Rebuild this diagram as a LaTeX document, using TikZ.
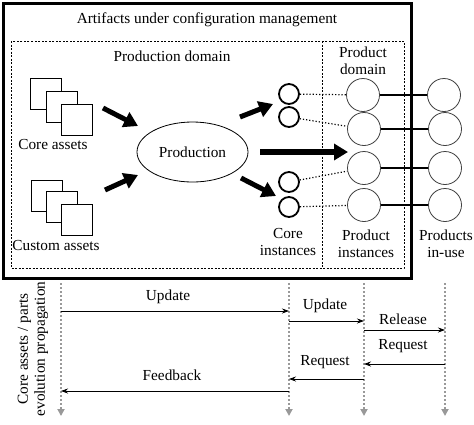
\documentclass[tikz,border=0pt]{standalone}
\usepackage{fontspec}
\setmainfont{Liberation Serif}
\usetikzlibrary{arrows.meta,shapes.geometric}
\tikzset{
  sq/.style={draw, fill=white, minimum size=31pt, inner sep=0pt, line width=0.8pt},
  coreinst/.style={circle, draw, line width=1.8pt, minimum size=20pt, inner sep=0pt},
  prodinst/.style={circle, draw=black!75, line width=0.8pt, minimum size=33pt, inner sep=0pt},
  bigarrow/.style={line width=5pt, -{Triangle[length=14pt,width=16pt]}},
  dotlink/.style={dotted, line width=1.2pt},
  uselink/.style={line width=1.5pt},
  lifeline/.style={draw=black!40, dotted, line width=2pt, -{Triangle[length=7pt,width=7pt]}},
  msg/.style={line width=0.8pt, -{Stealth[length=7pt,width=5pt]}},
  lbl/.style={inner sep=0pt, align=center},
}
\begin{document}
\begin{tikzpicture}[x=1pt, y=-1pt, font=\fontsize{15.3}{17}\selectfont]
\useasboundingbox (0,0) rectangle (474,424);
\fill[white] (0,0) rectangle (474,424);

% outer box and domains
\draw[line width=3pt] (3,3) rectangle (411,278);
\node[lbl] (title) at (207,20) {Artifacts under configuration management};
\draw[dash pattern=on 2pt off 1.5pt, line width=0.8pt] (11,41) rectangle (404,268);
\draw[dash pattern=on 2pt off 1.5pt, line width=0.8pt] (322,41) -- (322,268);
\node[lbl] (pdom) at (172,56) {Production domain};
\node[lbl] (prdom) at (363,61) {Product\\domain};

% core assets
\node[sq] (ca1) at (46,94) {};
\node[sq] (ca2) at (61.5,106.5) {};
\node[sq] (ca3) at (76.5,119.5) {};
\node[lbl] (calbl) at (53,145) {Core assets};

% custom assets
\node[sq] (cu1) at (46.5,195.5) {};
\node[sq] (cu2) at (61.5,206.5) {};
\node[sq] (cu3) at (76.5,220) {};
\node[lbl] (culbl) at (56,246) {Custom assets};

% production
\node[ellipse, draw, line width=0.8pt, minimum width=111pt, minimum height=60pt, inner sep=0pt] (prod) at (192.5,152) {Production};

% core instances
\node[coreinst] (c1) at (289,94) {};
\node[coreinst] (c2) at (289,117) {};
\node[coreinst] (c3) at (289,182) {};
\node[coreinst] (c4) at (289,207) {};
\node[lbl] (clbl) at (288,242) {Core\\instances};

% product instances
\node[prodinst] (p1) at (363,95) {};
\node[prodinst] (p2) at (364,129) {};
\node[prodinst] (p3) at (364,168) {};
\node[prodinst] (p4) at (364,205) {};
\node[lbl] (plbl) at (366,244) {Product\\instances};

% products in use
\node[prodinst] (u1) at (444,95) {};
\node[prodinst] (u2) at (445,129) {};
\node[prodinst] (u3) at (445,168) {};
\node[prodinst] (u4) at (445,205) {};
\node[lbl] (ulbl) at (446,244) {Products\\in-use};

% links
\draw[dotlink] (c1) -- (p1);
\draw[dotlink] (c2) -- (p2);
\draw[dotlink] (c3) -- (p3);
\draw[dotlink] (c4) -- (p4);
\draw[uselink] (p1) -- (u1);
\draw[uselink] (p2) -- (u2);
\draw[uselink] (p3) -- (u3);
\draw[uselink] (p4) -- (u4);

% big arrows
\coordinate (a1s) at (103,108);
\coordinate (a2s) at (105,190);
\coordinate (a3s) at (240,117);
\coordinate (a4s) at (241,178);
\coordinate (a5s) at (260,152);
\draw[bigarrow] (a1s) -- (138,126);
\draw[bigarrow] (a2s) -- (138,175);
\draw[bigarrow] (a3s) -- (273,104);
\draw[bigarrow] (a4s) -- (276,196);
\draw[bigarrow, line width=6pt] (a5s) -- (348,152);

% evolution propagation
\node[lbl, rotate=90] (evo) at (33,349) {Core assets / parts\\evolution propagation};
\coordinate (l1t) at (61,283); \coordinate (l1b) at (61,416);
\coordinate (l2t) at (289,283); \coordinate (l2b) at (289,416);
\coordinate (l3t) at (364,283); \coordinate (l3b) at (364,416);
\coordinate (l4t) at (445,283); \coordinate (l4b) at (445,416);
\draw[lifeline] (l1t) -- (l1b);
\draw[lifeline] (l2t) -- (l2b);
\draw[lifeline] (l3t) -- (l3b);
\draw[lifeline] (l4t) -- (l4b);

\coordinate (m1a) at (61,311); \coordinate (m1b) at (289,311);
\coordinate (m2a) at (289,321); \coordinate (m2b) at (364,321);
\coordinate (m3a) at (364,330); \coordinate (m3b) at (445,330);
\coordinate (m4a) at (445,364); \coordinate (m4b) at (364,364);
\coordinate (m5a) at (364,379); \coordinate (m5b) at (289,379);
\coordinate (m6a) at (289,391); \coordinate (m6b) at (61,391);
\draw[msg] (m1a) -- (m1b);
\draw[msg] (m2a) -- (m2b);
\draw[msg] (m3a) -- (m3b);
\draw[msg] (m4a) -- (m4b);
\draw[msg] (m5a) -- (m5b);
\draw[msg] (m6a) -- (m6b);
\node[lbl] (t1) at (168,297) {Update};
\node[lbl] (t2) at (325,306) {Update};
\node[lbl] (t3) at (403,319) {Release};
\node[lbl] (t4) at (403,346) {Request};
\node[lbl] (t5) at (325,362) {Request};
\node[lbl] (t6) at (172,375) {Feedback};
\end{tikzpicture}
\end{document}
